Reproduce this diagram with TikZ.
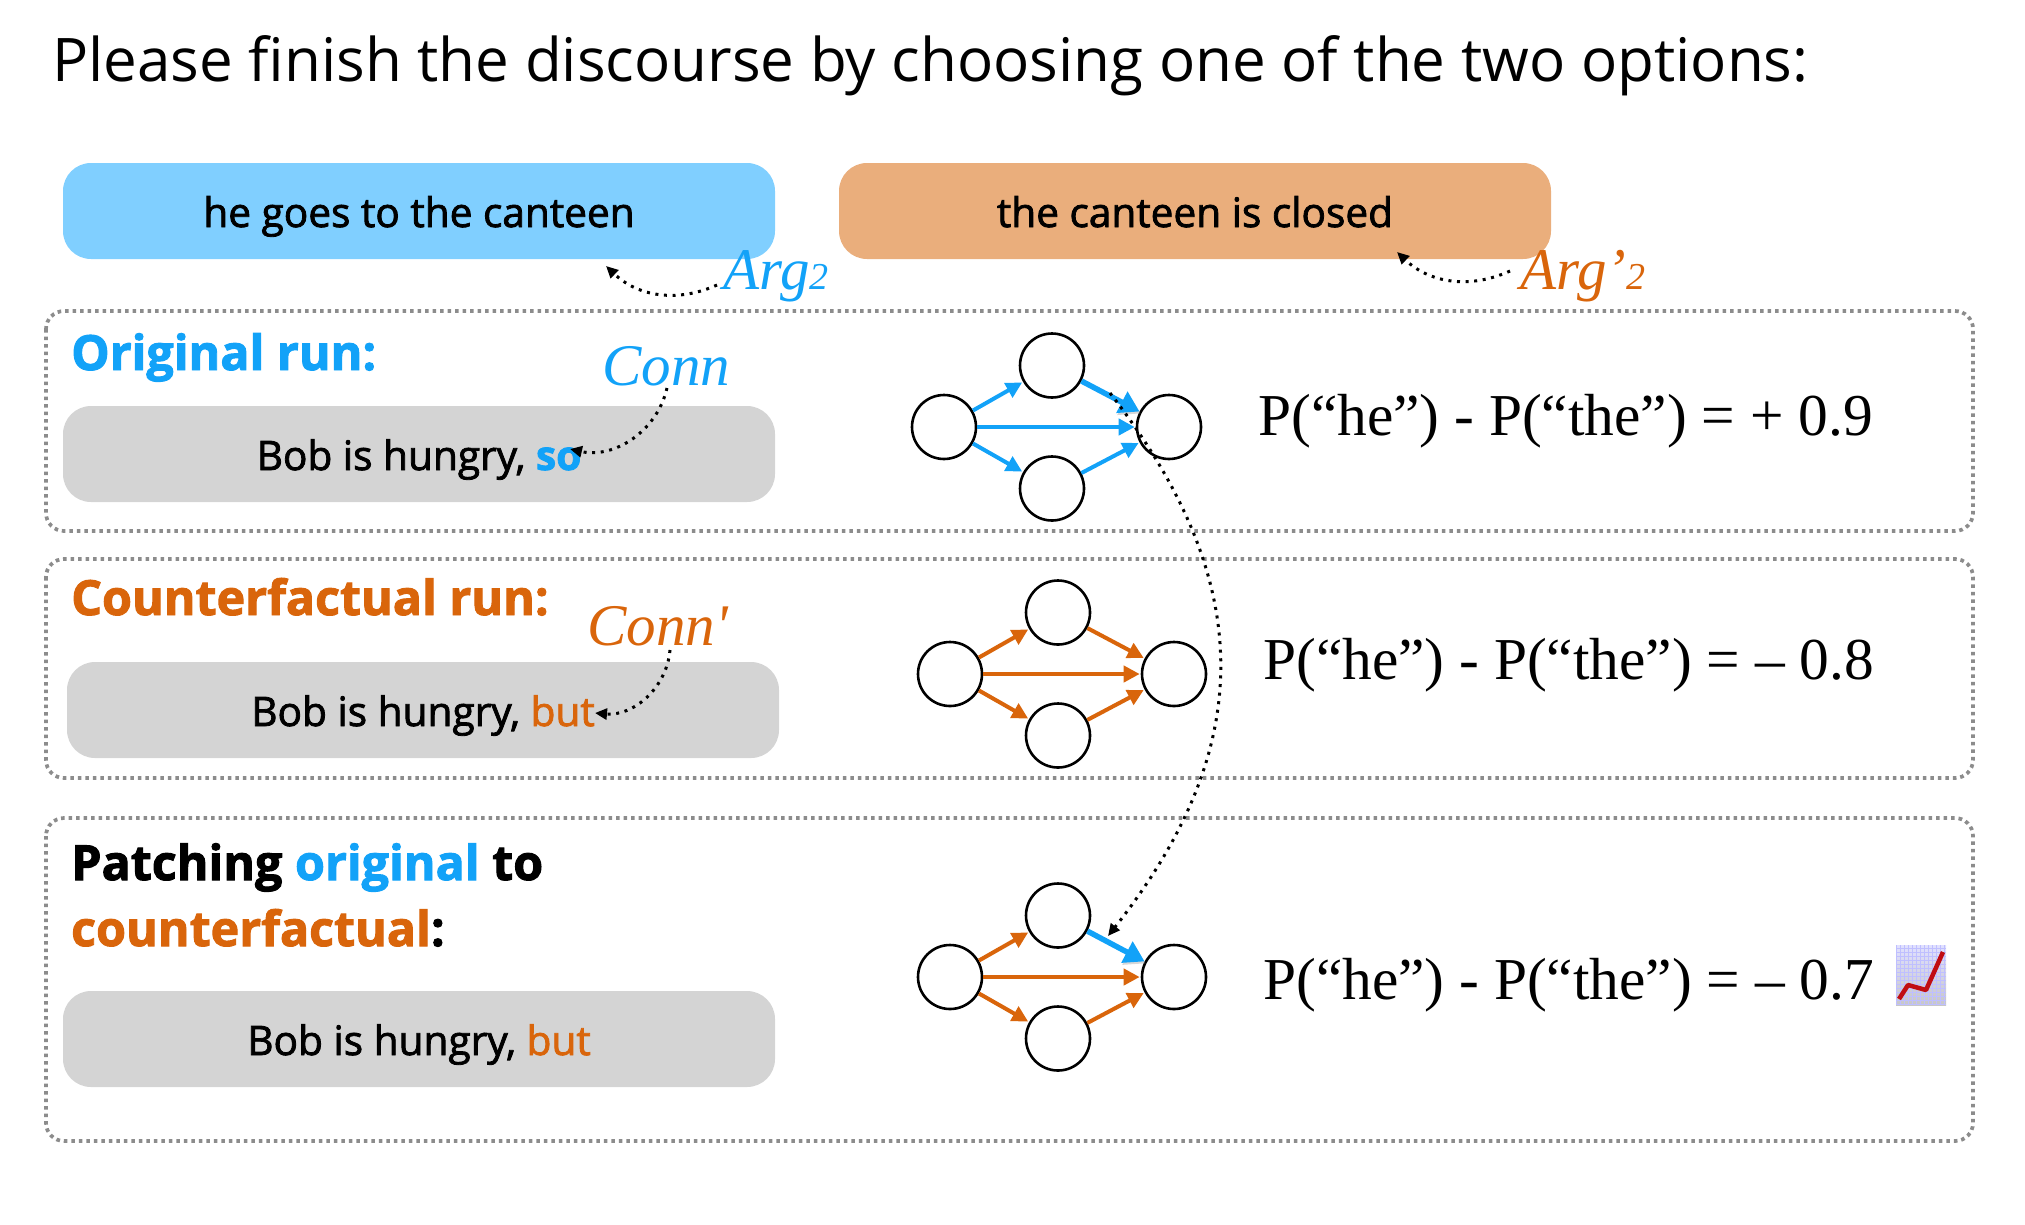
\documentclass[tikz,border=0pt]{standalone}
\usepackage{fontspec}
\setmainfont{Open Sans}
\newfontfamily\serifnum{Liberation Serif}
\newfontfamily\mediumfont[FakeBold=2]{Open Sans}
\newfontfamily\headfont[BoldFeatures={FakeBold=2}]{Open Sans}
\usepackage{xcolor}
\usetikzlibrary{arrows.meta,calc,positioning}
\definecolor{origblue}{HTML}{12A2F8}
\definecolor{cfactorange}{HTML}{D9650B}
\definecolor{bluebox}{HTML}{80CFFF}
\definecolor{orangebox}{HTML}{EAAE7C}
\definecolor{graybox}{HTML}{D4D4D4}
\definecolor{framegray}{HTML}{8C8C8C}
\definecolor{chartred}{HTML}{C00D12}

\begin{document}
\begin{tikzpicture}[
  x=1pt, y=-1pt,
  >={Triangle[length=16pt,width=16pt]},
  node distance=61.5pt and 108pt,
  every node/.style={text=black},
  heading/.style={anchor=base west, font=\headfont\bfseries\fontsize{48.4}{48}\selectfont, inner sep=0pt},
  optbox/.style={rounded corners=28pt, minimum width=712pt, minimum height=96pt, inner sep=0pt, text height=38pt, text depth=6pt, font=\mediumfont\fontsize{40.6}{40}\selectfont},
  runframe/.style={draw=framegray, line width=3.7pt, dash pattern=on 3.7pt off 3.8pt, rounded corners=18pt},
  unit/.style={circle, draw=black, line width=2.6pt, fill=white, minimum size=64pt, inner sep=0pt, on grid},
  formula/.style={anchor=base west, inner sep=0pt, font=\serifnum\fontsize{59.4}{60}\selectfont},
  tag/.style={anchor=base west, inner sep=0pt, font=\serifnum\itshape\fontsize{59}{59}\selectfont},
  blueedge/.style={->, line width=4pt, draw=origblue, shorten >=1pt},
  orangeedge/.style={->, line width=4pt, draw=cfactorange, shorten >=1pt},
  patched/.style={->, line width=5.5pt, draw=origblue, >={Triangle[length=20pt,width=23pt]},
    preaction={draw=black!35, opacity=0.45, transform canvas={shift={(1pt,-2pt)}}}},
  pointer/.style={-{Triangle[length=12pt,width=11pt]}, line width=3pt, draw=black, dash pattern=on 3pt off 5.6pt}
]
\useasboundingbox (0,0) rectangle (2025,1224);

% ---- title ----
\node (title) [anchor=base west, inner sep=0pt, font=\fontsize{60.1}{60}\selectfont] at (52,81) {Please finish the discourse by choosing one of the two options:};

% ---- options ----
\node (opt) [optbox, fill=bluebox] at (419,211) {he goes to the canteen};
\node (optcf) [optbox, fill=orangebox] at (1195,211) {the canteen is closed};
\node (arg) [tag, text=origblue] at (723,289) {Arg{\fontsize{38}{38}\selectfont 2}};
\node (argcf) [tag, text=cfactorange] at (1520,289) {Arg’{\fontsize{38}{38}\selectfont 2}};

% ---- frames ----
\draw[runframe] (46,311) rectangle (1973,531);
\draw[runframe] (46,559) rectangle (1973,778);
\draw[runframe] (46,818) rectangle (1973,1141);

% ---- original run ----
\node (head1) [heading, text=origblue] at (71,370) {Original run:};
\node (conn) [tag, text=origblue] at (602,385) {Conn};
\node (sent1) [optbox, fill=graybox] at (419,454) {Bob is hungry, \textcolor{origblue}{\headfont\bfseries so}};
\node (L1) [unit] at (944,427) {};
\node (T1) [unit, above right=of L1] {};
\node (B1) [unit, below right=of L1] {};
\node (R1) [unit, below right=61.5pt and 117pt of T1] {};
\node (eq1) [formula] at (1258,435) {P(“he”) - P(“the”) = + 0.9};

% ---- counterfactual run ----
\node (head2) [heading, text=cfactorange] at (71,615) {Counterfactual run:};
\node (conncf) [tag, text=cfactorange] at (587,645) {Conn'};
\node (sent2) [optbox, fill=graybox] at (423,710) {Bob is hungry, \textcolor{cfactorange}{but}};
\node (L2) [unit] at (950,674) {};
\node (T2) [unit, above right=of L2] {};
\node (B2) [unit, below right=of L2] {};
\node (R2) [unit, below right=61.5pt and 116pt of T2] {};
\node (eq2) [formula] at (1263,679) {P(“he”) - P(“the”) = – 0.8};

% ---- patching ----
\node (head3) [heading] at (71,880) {Patching \textcolor{origblue}{original} to};
\node (head4) [heading] at (71,946) {\textcolor{cfactorange}{counterfactual}:};
\node (sent3) [optbox, fill=graybox] at (419,1039) {Bob is hungry, \textcolor{cfactorange}{but}};
\node (L3) [unit] at (950,977) {};
\node (T3) [unit, above right=of L3] {};
\node (B3) [unit, below right=of L3] {};
\node (R3) [unit, below right=61.5pt and 116pt of T3] {};
\node (eq3) [formula] at (1263,999) {P(“he”) - P(“the”) = – 0.7};

% ---- edges: original ----
\draw[blueedge] (L1) -- (T1);
\draw[blueedge] (L1) -- (R1);
\draw[blueedge] (L1) -- (B1);
\draw[blueedge] (B1) -- (R1);
\draw[patched] (T1) -- (R1);

% ---- edges: counterfactual ----
\draw[orangeedge] (L2) -- (T2);
\draw[orangeedge] (L2) -- (R2);
\draw[orangeedge] (L2) -- (B2);
\draw[orangeedge] (B2) -- (R2);
\draw[orangeedge] (T2) -- (R2);

% ---- edges: patched ----
\draw[orangeedge] (L3) -- (T3);
\draw[orangeedge] (L3) -- (R3);
\draw[orangeedge] (L3) -- (B3);
\draw[orangeedge] (B3) -- (R3);
\draw[patched] (T3) -- (R3);

% ---- pointers ----
\coordinate (argfrom) at (717,285);
\coordinate (argto) at (606,266);
\coordinate (argcffrom) at (1510,271);
\coordinate (argcfto) at (1397,252);
\coordinate (connfrom) at (667,388);
\coordinate (connto) at (570,449);
\coordinate (conncffrom) at (670,650);
\coordinate (conncfto) at (595,713);
\coordinate (patchfrom) at (1110,393);
\coordinate (patchto) at (1108,936);
\draw[pointer] (argfrom) to[bend left=34] (argto);
\draw[pointer] (argcffrom) to[bend left=34] (argcfto);
\draw[pointer] (connfrom) to[bend left=45] (connto);
\draw[pointer] (conncffrom) to[bend left=45] (conncfto);
\draw[pointer] (patchfrom) to[bend left=38, looseness=1.13] (patchto);

% ---- chart icon ----
\fill[top color=white!88!blue, bottom color=black!22] (1896,945) rectangle (1946,1005);
\draw[blue!25, line width=0.5pt, step=4pt] (1896,945) grid (1946,1005);
\draw[line width=4.5pt, draw=chartred, line join=round] (1899,999) -- (1908,985) -- (1926,990) -- (1943,952);

\end{tikzpicture}
\end{document}
